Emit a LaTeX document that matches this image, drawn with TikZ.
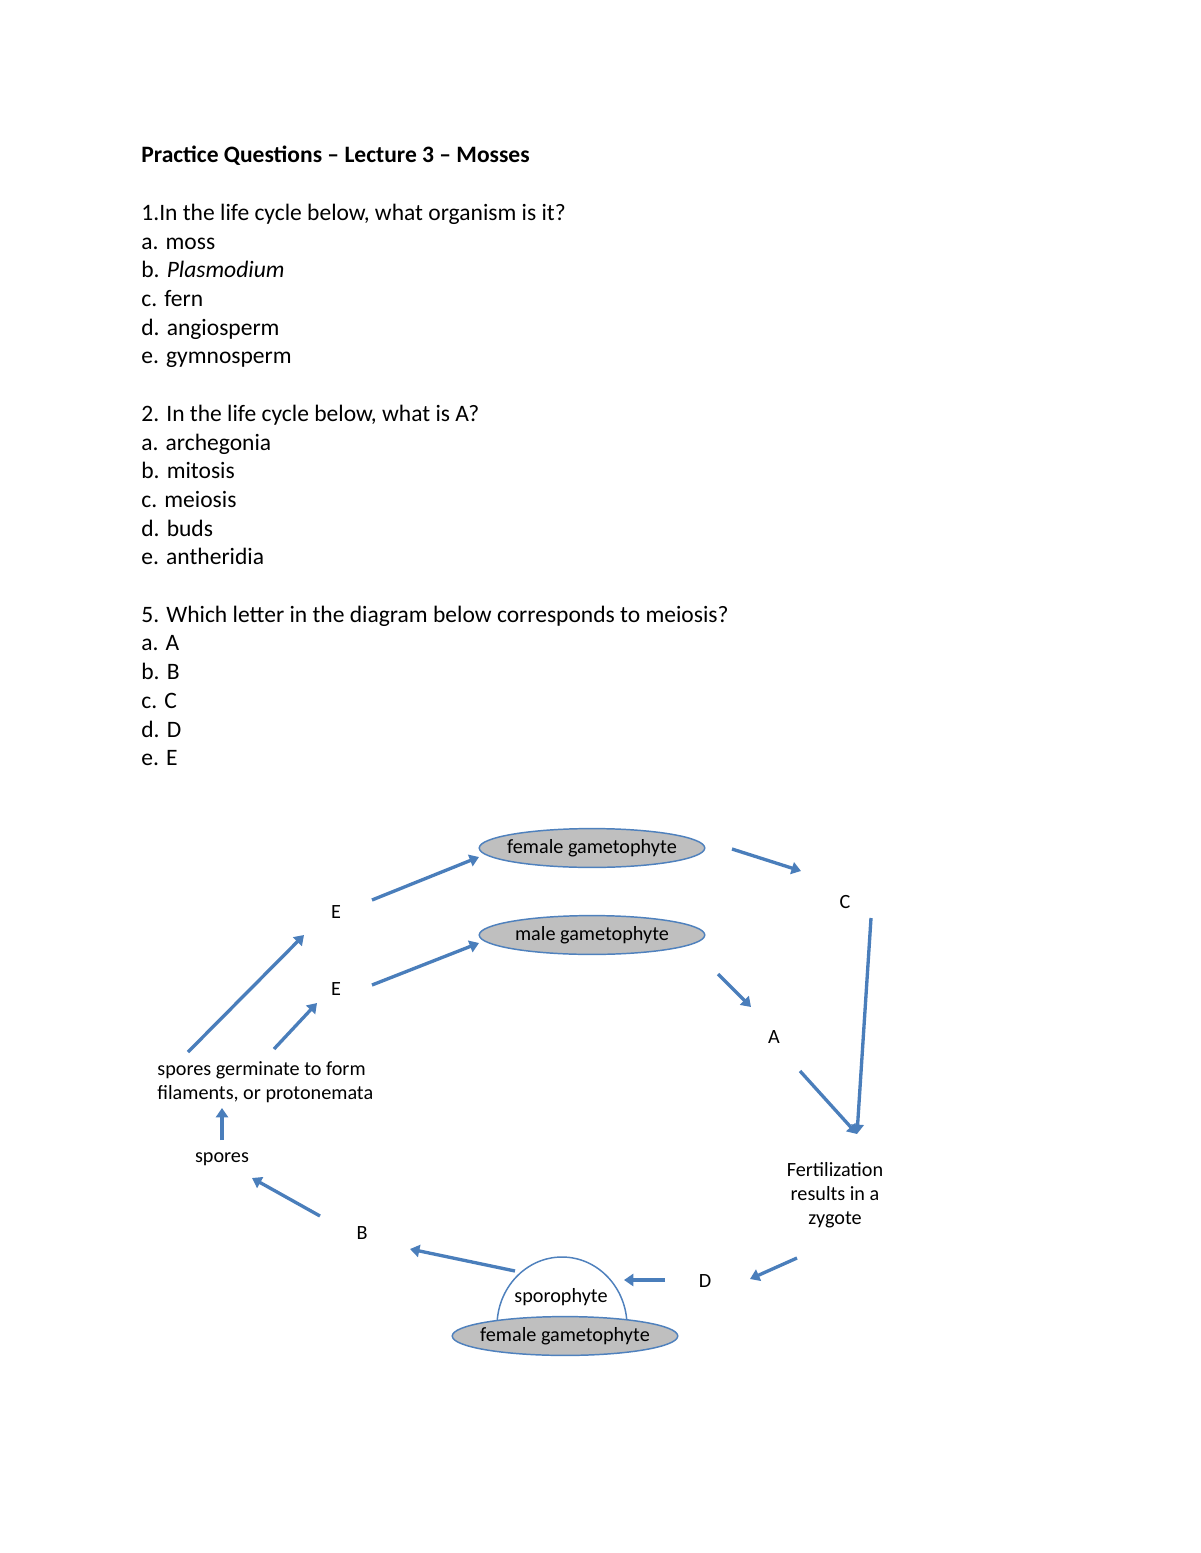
\documentclass[tikz,border=0pt]{standalone}
\usepackage{fontspec}
\setmainfont{Carlito}
\usepackage{tikz}
\usetikzlibrary{arrows.meta,shapes.geometric}
\definecolor{arrowblue}{HTML}{4A7EBB}
\definecolor{edgeblue}{HTML}{4F81BD}
\definecolor{gamfill}{HTML}{BFBFBF}
\tikzset{
  qline/.style={anchor=base west, inner sep=0pt, font=\fontsize{12pt}{14.6pt}\selectfont},
  tag/.style={inner sep=0pt, font=\fontsize{10.3pt}{12.2pt}\selectfont},
  gamete/.style={draw=edgeblue, line width=0.75pt, fill=gamfill, ellipse, minimum width=115pt, minimum height=19.8pt, inner xsep=-6pt, inner ysep=0pt, font=\fontsize{10.3pt}{12.2pt}\selectfont},
  cyclearrow/.style={draw=arrowblue, line width=1.7pt, -{Triangle[length=4.8pt,width=6.2pt]}},
}

\begin{document}
\begin{tikzpicture}[x=0.51pt, y=-0.51pt]%
\fill[white] (0,0) rectangle (1200,1553);%
\useasboundingbox (0,0) rectangle (1200,1553);%
% questions
\node[qline, font=\fontsize{12pt}{14.6pt}\selectfont\bfseries] (title) at (141,163) {Practice Questions – Lecture 3 – Mosses};%
\node[qline] (q1) at (141,220.4) {1.In the life cycle below, what organism is it?};%
\node[qline] (q1a) at (141,249.1) {a. moss};%
\node[qline] (q1b) at (141,277.8) {b. \textit{Plasmodium}};%
\node[qline] (q1c) at (141,306.5) {c. fern};%
\node[qline] (q1d) at (141,335.2) {d. angiosperm};%
\node[qline] (q1e) at (141,363.9) {e. gymnosperm};%
\node[qline] (q2) at (141,421.3) {2. In the life cycle below, what is A?};%
\node[qline] (q2a) at (141,450.0) {a. archegonia};%
\node[qline] (q2b) at (141,478.7) {b. mitosis};%
\node[qline] (q2c) at (141,507.4) {c. meiosis};%
\node[qline] (q2d) at (141,536.1) {d. buds};%
\node[qline] (q2e) at (141,564.8) {e. antheridia};%
\node[qline] (q5) at (141,622.2) {5. Which letter in the diagram below corresponds to meiosis?};%
\node[qline] (q5a) at (141,650.9) {a. A};%
\node[qline] (q5b) at (141,679.6) {b. B};%
\node[qline] (q5c) at (141,708.3) {c. C};%
\node[qline] (q5d) at (141,737.0) {d. D};%
\node[qline] (q5e) at (141,765.7) {e. E};%
% life cycle
\node[gamete] (fgtop) at (592,848) {female gametophyte};%
\node[gamete] (mgam) at (592,935) {male gametophyte};%
\node[tag] (E1) at (336,912) {E};%
\node[tag] (E2) at (336,989) {E};%
\node[tag] (C) at (845,902) {C};%
\node[tag] (A) at (774,1037) {A};%
\node[tag] (B) at (362,1233) {B};%
\node[tag] (D) at (705,1281) {D};%
\node[tag, anchor=base] (spores) at (222,1162) {spores};%
\node[tag, align=left, anchor=west] (protonema) at (157,1082) {spores germinate to form\\filaments, or protonemata};%
\node[tag, align=center] (zygote) at (835,1195) {Fertilization\\results in a\\zygote};%
\draw[draw=edgeblue, line width=0.75pt, fill=white] (497,1326) .. controls (497,1288) and (526,1257) .. (562,1257) .. controls (598,1257) and (627,1288) .. (627,1326);%
\node[tag] (sporo) at (561,1297) {sporophyte};%
\node[gamete] (fgbot) at (565,1336) {female gametophyte};%
% arrow ends
\coordinate (E1 out) at (372,900);%
\coordinate (fgtop in) at (479,857);%
\coordinate (E2 out) at (372,985);%
\coordinate (mgam in) at (479,943);%
\coordinate (fgtop out) at (732,849);%
\coordinate (C in) at (801,871);%
\coordinate (mgam out) at (718,974);%
\coordinate (A in) at (751,1007);%
\coordinate (C out) at (871,918);%
\coordinate (A out) at (800,1071);%
\coordinate (zygote in) at (857,1134);%
\coordinate (zygote out) at (797,1258);%
\coordinate (D in) at (750,1279);%
\coordinate (D out) at (665,1280);%
\coordinate (sporo in) at (624,1280);%
\coordinate (sporo out) at (515,1271);%
\coordinate (B in) at (410,1249);%
\coordinate (B out) at (320,1216);%
\coordinate (spores in) at (252,1178);%
\coordinate (spores out) at (222,1140);%
\coordinate (protonema in) at (222,1108);%
\coordinate (protonema out1) at (188,1052);%
\coordinate (E1 in) at (304,935);%
\coordinate (protonema out2) at (274,1049);%
\coordinate (E2 in) at (317,1003);%
\draw[cyclearrow] (E1 out) -- (fgtop in);%
\draw[cyclearrow] (E2 out) -- (mgam in);%
\draw[cyclearrow] (fgtop out) -- (C in);%
\draw[cyclearrow] (mgam out) -- (A in);%
\draw[cyclearrow] (C out) -- (zygote in);%
\draw[cyclearrow] (A out) -- (zygote in);%
\draw[cyclearrow] (zygote out) -- (D in);%
\draw[cyclearrow] (D out) -- (sporo in);%
\draw[cyclearrow] (sporo out) -- (B in);%
\draw[cyclearrow] (B out) -- (spores in);%
\draw[cyclearrow] (spores out) -- (protonema in);%
\draw[cyclearrow] (protonema out1) -- (E1 in);%
\draw[cyclearrow] (protonema out2) -- (E2 in);%
\end{tikzpicture}
\end{document}
